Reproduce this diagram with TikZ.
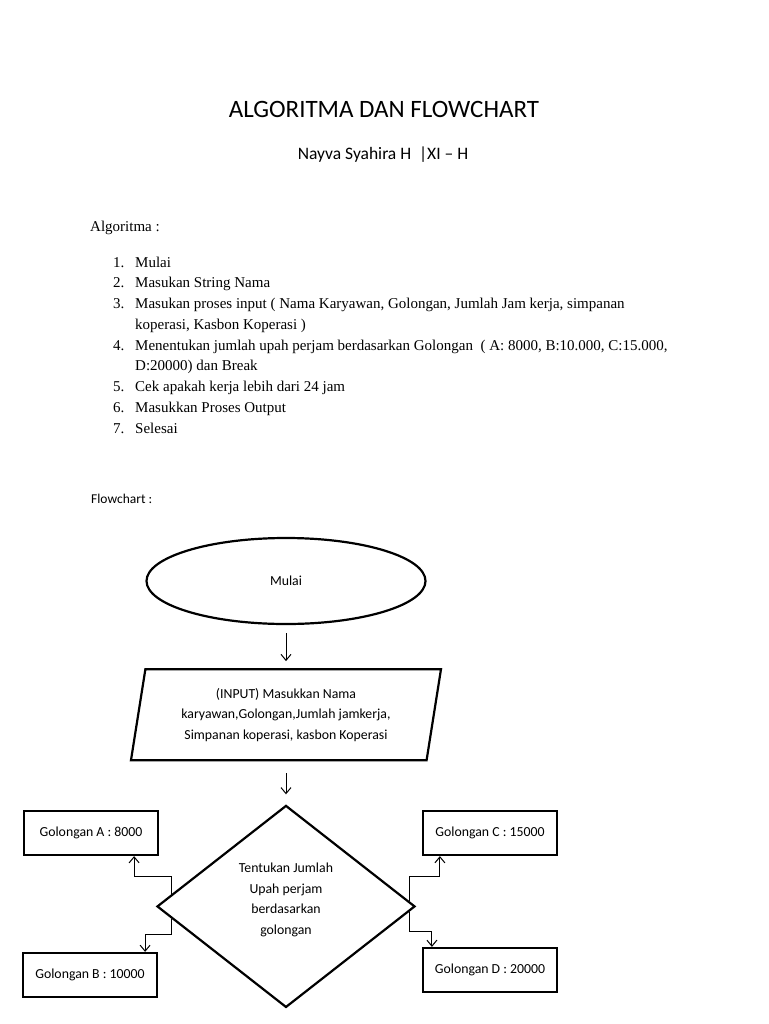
\documentclass[tikz,border=0pt]{standalone}
\usepackage{fontspec}
\setmainfont{Liberation Serif}
\newfontfamily\calibri{Carlito}
\usetikzlibrary{arrows.meta, positioning, shapes.geometric, calc}

\begin{document}
\begin{tikzpicture}[
    x=1pt, y=-1pt,
    node distance=43pt,
    txt/.style={
        anchor=base west,
        inner sep=0pt,
        font=\fontsize{15}{18}\selectfont
    },
    flow/.style={
        draw,
        line width=2.2pt,
        align=center,
        font=\calibri\fontsize{13.8}{20.5}\selectfont
    },
    terminal/.style={
        flow,
        ellipse,
        minimum width=279pt,
        minimum height=86pt,
        inner sep=0pt
    },
    io/.style={
        flow,
        trapezium,
        trapezium left angle=76.5,
        trapezium right angle=103.5,
        trapezium stretches body,
        minimum width=310pt,
        minimum height=91pt
    },
    decision/.style={
        flow,
        diamond,
        minimum width=258pt,
        minimum height=202pt,
        inner sep=0pt
    },
    gol/.style={
        flow,
        rectangle,
        minimum width=134pt,
        minimum height=44pt
    },
    line/.style={
        draw,
        -{Straight Barb[length=6pt, width=10pt]},
        line width=1pt
    }
]

    \useasboundingbox (0,0) rectangle (768,1024);
    \fill[white] (0,0) rectangle (768,1024);

    % judul
    \node [anchor=base, font=\calibri\fontsize{25}{30}\selectfont] (judul) at (384,118) {ALGORITMA DAN FLOWCHART};
    \node [anchor=base, font=\calibri\fontsize{17.5}{21}\selectfont] (nama) at (383,160) {Nayva Syahira H\ \ |XI – H};

    % algoritma
    \node [txt] (algo) at (90,232) {Algoritma :};

    \foreach \num/\itemtext [count=\i from 0] in {
        1./Mulai,
        2./Masukan String Nama,
        3./{Masukan proses input ( Nama Karyawan, Golongan, Jumlah Jam kerja, simpanan},
        {}/{koperasi, Kasbon Koperasi )},
        4./{Menentukan jumlah upah perjam berdasarkan Golongan\ \ ( A: 8000, B:10.000, C:15.000,},
        {}/{D:20000) dan Break},
        5./Cek apakah kerja lebih dari 24 jam,
        6./Masukkan Proses Output,
        7./Selesai}
    {
        \node [txt] (no\i) at (113, 267+20.75*\i) {\num};
        \node [txt] (item\i) at (135, 267+20.75*\i) {\itemtext};
    }

    % flowchart
    \node [anchor=base west, inner sep=0pt, font=\calibri\fontsize{13.5}{16}\selectfont] (fc) at (91,503) {Flowchart :};

    \node [terminal] (mulai) at (286,581) {Mulai};

    \node [io, below=of mulai] (input) {
        (INPUT) Masukkan Nama\\
        karyawan,Golongan,Jumlah jamkerja,\\
        Simpanan koperasi, kasbon Koperasi
    };

    \node [decision, below=of input] (tentukan) {
        Tentukan Jumlah\\Upah perjam\\berdasarkan\\golongan\\[-5pt]{}
    };

    \node [gol] (golA) at (91,833) {Golongan A : 8000};
    \node [gol] (golB) at (90,975) {Golongan B : 10000};
    \node [gol] (golC) at (490,833) {Golongan C : 15000};
    \node [gol] (golD) at (490,970) {Golongan D : 20000};

    \draw [line, shorten <=8pt, shorten >=7pt] (mulai.south) -- (input.north);
    \draw [line, shorten <=12pt, shorten >=10pt] (input.south) -- (tentukan.north);

    \draw [line] ($(tentukan.west)!0.12!(tentukan.north)$) -- ++(0,-18) -| ([xshift=-25pt]golA.south east);
    \draw [line] ($(tentukan.west)!0.12!(tentukan.south)$) -- ++(0,16) -| ([xshift=-13pt]golB.north east);
    \draw [line] ($(tentukan.east)!0.05!(tentukan.north)$) -- ++(0,-25) -| ([xshift=18pt]golC.south west);
    \draw [line] ($(tentukan.east)!0.05!(tentukan.south)$) -- ++(0,20) -| ([xshift=10pt]golD.north west);

\end{tikzpicture}
\end{document}
